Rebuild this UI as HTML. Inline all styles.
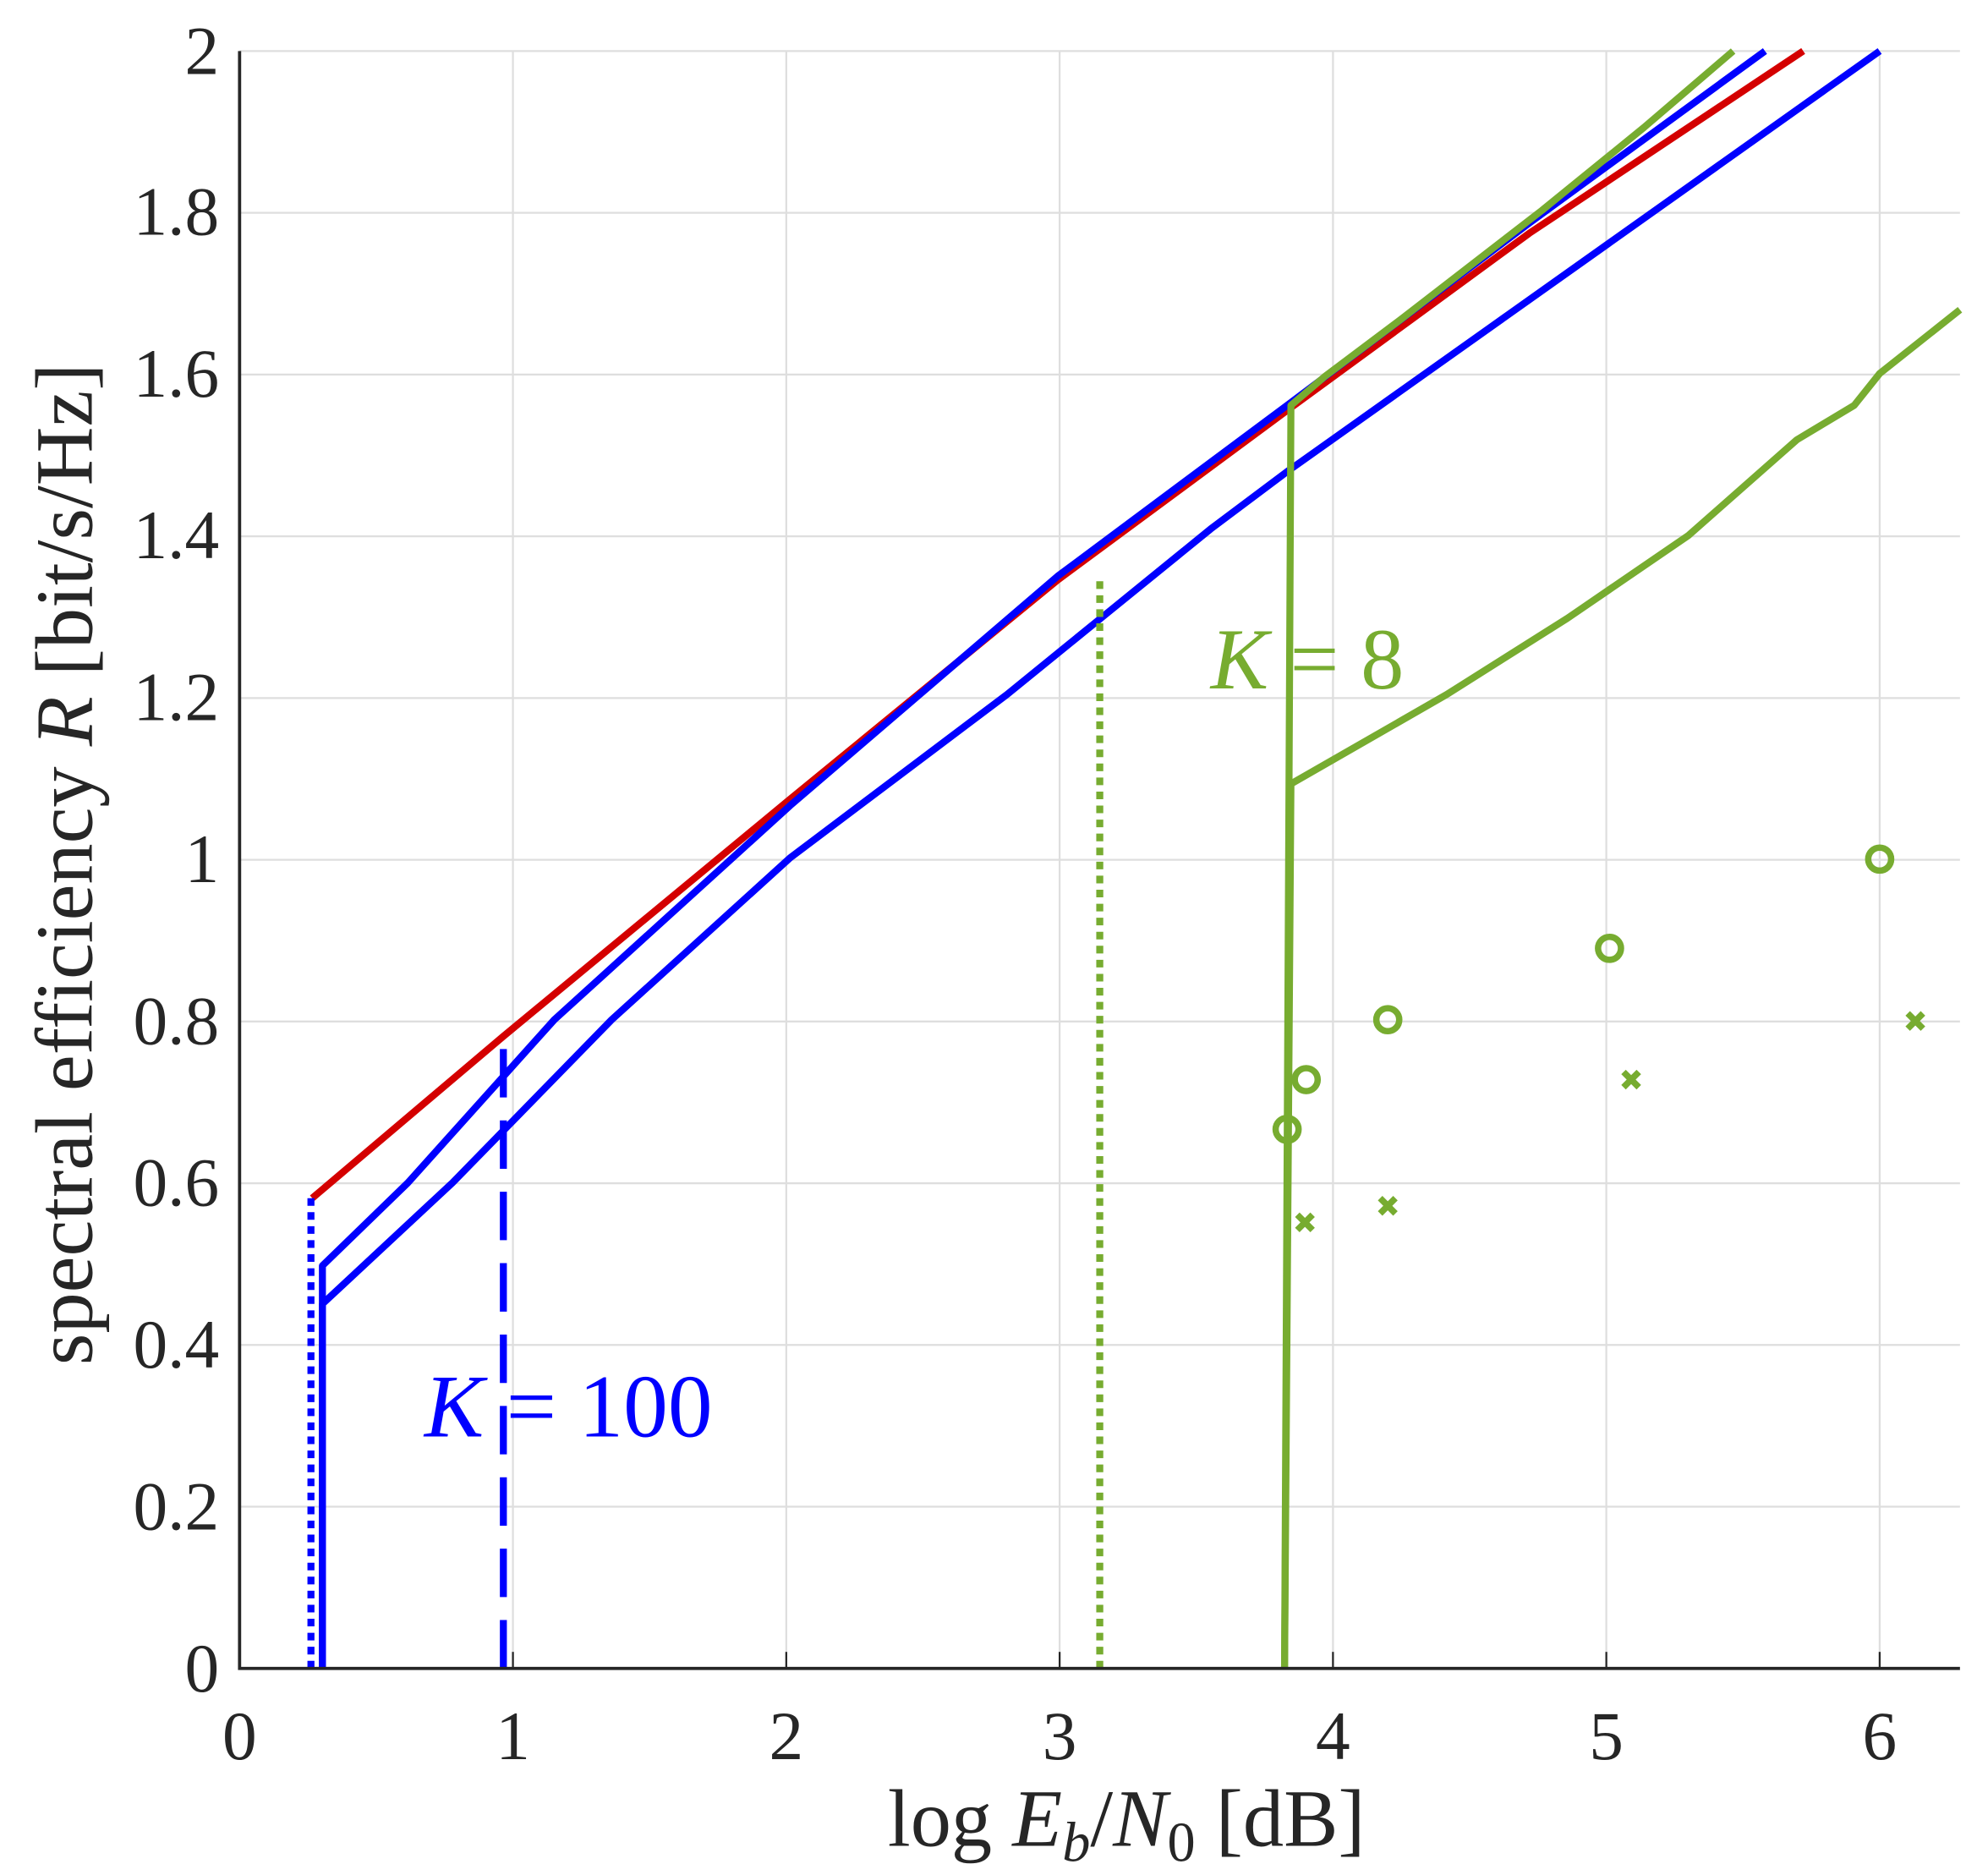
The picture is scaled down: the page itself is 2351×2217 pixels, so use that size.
<!DOCTYPE html>
<html><head><meta charset="utf-8"><style>
html,body{margin:0;padding:0;background:#fff}
svg{display:block}
text{font-family:"Liberation Serif",serif;fill:#262626}
</style></head><body>
<svg width="2351" height="2217" viewBox="0 0 1560 1471" xmlns="http://www.w3.org/2000/svg">
<rect width="1560" height="1471" fill="#fff"/>
<g stroke="#dedede" stroke-width="1.5">
<line x1="402.5" y1="40" x2="402.5" y2="1309"/><line x1="617" y1="40" x2="617" y2="1309"/>
<line x1="831.5" y1="40" x2="831.5" y2="1309"/><line x1="1046" y1="40" x2="1046" y2="1309"/>
<line x1="1260.5" y1="40" x2="1260.5" y2="1309"/><line x1="1475" y1="40" x2="1475" y2="1309"/>
<line x1="188" y1="1182.1" x2="1538" y2="1182.1"/><line x1="188" y1="1055.2" x2="1538" y2="1055.2"/>
<line x1="188" y1="928.3" x2="1538" y2="928.3"/><line x1="188" y1="801.4" x2="1538" y2="801.4"/>
<line x1="188" y1="674.5" x2="1538" y2="674.5"/><line x1="188" y1="547.6" x2="1538" y2="547.6"/>
<line x1="188" y1="420.7" x2="1538" y2="420.7"/><line x1="188" y1="293.8" x2="1538" y2="293.8"/>
<line x1="188" y1="166.9" x2="1538" y2="166.9"/><line x1="188" y1="40" x2="1538" y2="40"/>
</g>
<g fill="none" stroke-width="5.5" stroke-linejoin="round">
<polyline stroke="#d40000" points="245,940 395,813 620,627 830,455 1010,322 1200,183 1415,40"/>
<polyline stroke="#0000ff" points="253,1309 253,993 320,928 435,800 620,632 830,452 1010,318 1200,175 1385,40"/>
<polyline stroke="#0000ff" points="253,1309 253,1023 355,928 480,800 620,673 790,545 870,480 950,415 1010,370 1475,40"/>
<line stroke="#0000ff" x1="244" y1="1309" x2="244" y2="940" stroke-dasharray="6,5"/>
<line stroke="#0000ff" x1="395" y1="1309" x2="395" y2="813" stroke-dasharray="38,18"/>
<line stroke="#77ac30" x1="863" y1="1309" x2="863" y2="455" stroke-dasharray="6,5"/>
<polyline stroke="#77ac30" points="1008,1309 1013,318 1040,295 1100,250 1210,165 1290,100 1360,40"/>
<polyline stroke="#77ac30" points="1008,1309 1013,615 1135,545 1230,485 1325,420 1410,345 1455,318 1475,293 1538,243"/>
</g>
<g fill="none" stroke="#77ac30" stroke-width="5">
<circle cx="1010" cy="886" r="9"/><circle cx="1025" cy="847" r="9"/><circle cx="1089" cy="800" r="9"/>
<circle cx="1263" cy="744" r="9"/><circle cx="1475" cy="674" r="9"/>
</g>
<g stroke="#77ac30" stroke-width="5">
<path d="M1018,953l12,12M1030,953l-12,12"/><path d="M1083,940l12,12M1095,940l-12,12"/>
<path d="M1274,841l12,12M1286,841l-12,12"/><path d="M1497,795l12,12M1509,795l-12,12"/>
</g>
<g stroke="#262626" stroke-width="2.5" fill="none">
<polyline points="188,40 188,1309 1538,1309"/>
</g>
<g stroke="#262626" stroke-width="1.5">
<line x1="402.5" y1="1309" x2="402.5" y2="1296"/><line x1="617" y1="1309" x2="617" y2="1296"/>
<line x1="831.5" y1="1309" x2="831.5" y2="1296"/><line x1="1046" y1="1309" x2="1046" y2="1296"/>
<line x1="1260.5" y1="1309" x2="1260.5" y2="1296"/><line x1="1475" y1="1309" x2="1475" y2="1296"/>
</g>
<g font-size="54" text-anchor="middle">
<text x="188" y="1380">0</text><text x="402.5" y="1380">1</text><text x="617" y="1380">2</text>
<text x="831.5" y="1380">3</text><text x="1046" y="1380">4</text><text x="1260.5" y="1380">5</text><text x="1475" y="1380">6</text>
</g>
<g font-size="54" text-anchor="end">
<text x="172" y="1327">0</text><text x="172" y="1200">0.2</text><text x="172" y="1073">0.4</text>
<text x="172" y="946">0.6</text><text x="172" y="819">0.8</text><text x="172" y="692">1</text>
<text x="172" y="565">1.2</text><text x="172" y="438">1.4</text><text x="172" y="311">1.6</text>
<text x="172" y="184">1.8</text><text x="172" y="58">2</text>
</g>
<text x="884" y="1448" font-size="64" text-anchor="middle">log <tspan font-style="italic">E</tspan><tspan font-style="italic" font-size="44" dy="12">b</tspan><tspan dy="-12">/</tspan><tspan font-style="italic">N</tspan><tspan font-size="44" dy="12">0</tspan><tspan dy="-12"> [dB]</tspan></text>
<text transform="translate(72,678) rotate(-90)" font-size="64" text-anchor="middle">spectral efficiency <tspan font-style="italic">R</tspan> [bit/s/Hz]</text>
<text x="950" y="540" font-size="68" style="fill:#77ac30"><tspan font-style="italic">K</tspan> = 8</text>
<text x="333" y="1127" font-size="70" style="fill:#0000ff"><tspan font-style="italic">K</tspan> = 100</text>
</svg>
</body></html>
